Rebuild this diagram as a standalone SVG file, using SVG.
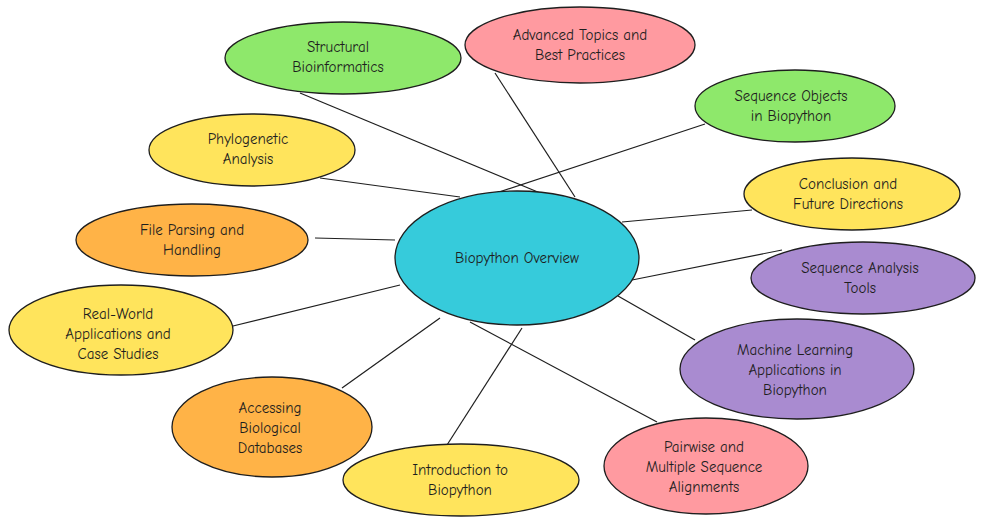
<svg xmlns="http://www.w3.org/2000/svg" width="987" height="527" viewBox="0 0 987 527">
<style>
.n{stroke:#1e1e1e;stroke-width:1.3}
.t{font-family:"Comic Neue","Liberation Sans",sans-serif;font-size:15px;fill:#1e1e1e;text-anchor:middle}
.c line{stroke:#1e1e1e;stroke-width:1.2}
.g{fill:#8ee86b}.p{fill:#ff9aa0}.y{fill:#ffe45c}.o{fill:#ffb347}.u{fill:#a98bd0}
</style>
<rect width="987" height="527" fill="#fff"/>
<g class="c" id="connectors">
<line x1="300" y1="93" x2="545" y2="195"/>
<line x1="495" y1="73" x2="575" y2="197"/>
<line x1="705" y1="124" x2="490" y2="195"/>
<line x1="320" y1="178" x2="460" y2="197"/>
<line x1="752" y1="210" x2="622" y2="222"/>
<line x1="315" y1="238" x2="395" y2="240"/>
<line x1="782" y1="250" x2="632" y2="280"/>
<line x1="233" y1="326" x2="400" y2="285"/>
<line x1="695" y1="340" x2="618" y2="296"/>
<line x1="342" y1="388" x2="440" y2="318"/>
<line x1="447" y1="445" x2="522" y2="328"/>
<line x1="657" y1="422" x2="470" y2="322"/>
</g>
<g id="center"><ellipse class="n" cx="517" cy="258" rx="122" ry="67" fill="#36cbdb"/><text class="t" x="517" y="263">Biopython Overview</text></g>
<g id="structural"><ellipse class="n g" cx="343" cy="58" rx="118" ry="36"/><text class="t" x="338" y="52">Structural</text><text class="t" x="338" y="72">Bioinformatics</text></g>
<g id="advanced"><ellipse class="n p" cx="580" cy="45" rx="115" ry="38"/><text class="t" x="580" y="40">Advanced Topics and</text><text class="t" x="580" y="60">Best Practices</text></g>
<g id="seqobj"><ellipse class="n g" cx="795" cy="106" rx="100" ry="36"/><text class="t" x="791" y="101">Sequence Objects</text><text class="t" x="791" y="121">in Biopython</text></g>
<g id="phylo"><ellipse class="n y" cx="252" cy="150" rx="103" ry="36"/><text class="t" x="248" y="144">Phylogenetic</text><text class="t" x="248" y="164">Analysis</text></g>
<g id="conclusion"><ellipse class="n y" cx="852" cy="194" rx="108" ry="36"/><text class="t" x="848" y="189">Conclusion and</text><text class="t" x="848" y="209">Future Directions</text></g>
<g id="fileparsing"><ellipse class="n o" cx="192" cy="240" rx="116" ry="36"/><text class="t" x="192" y="235">File Parsing and</text><text class="t" x="192" y="255">Handling</text></g>
<g id="seqanalysis"><ellipse class="n u" cx="863" cy="278" rx="112" ry="36"/><text class="t" x="860" y="273">Sequence Analysis</text><text class="t" x="860" y="293">Tools</text></g>
<g id="realworld"><ellipse class="n y" cx="121" cy="330" rx="112" ry="45"/><text class="t" x="118" y="319">Real-World</text><text class="t" x="118" y="339">Applications and</text><text class="t" x="118" y="359">Case Studies</text></g>
<g id="ml"><ellipse class="n u" cx="797" cy="369" rx="117" ry="50"/><text class="t" x="795" y="355">Machine Learning</text><text class="t" x="795" y="375">Applications in</text><text class="t" x="795" y="395">Biopython</text></g>
<g id="databases"><ellipse class="n o" cx="272" cy="427" rx="100" ry="50"/><text class="t" x="270" y="413">Accessing</text><text class="t" x="270" y="433">Biological</text><text class="t" x="270" y="453">Databases</text></g>
<g id="intro"><ellipse class="n y" cx="461" cy="480" rx="118" ry="36"/><text class="t" x="460" y="475">Introduction to</text><text class="t" x="460" y="495">Biopython</text></g>
<g id="pairwise"><ellipse class="n p" cx="706" cy="466" rx="102" ry="48"/><text class="t" x="704" y="452">Pairwise and</text><text class="t" x="704" y="472">Multiple Sequence</text><text class="t" x="704" y="492">Alignments</text></g>
</svg>
